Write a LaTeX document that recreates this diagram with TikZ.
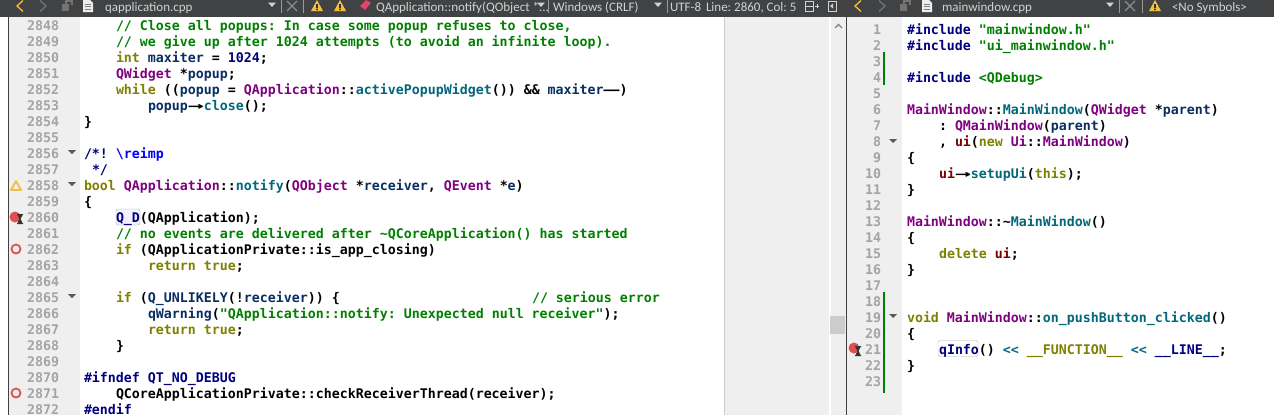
\documentclass[tikz,border=0pt]{standalone}
\usepackage{fontspec}
\newfontfamily\codefont{DejaVu Sans Mono Bold}
\newfontfamily\barfont{Carlito}
\definecolor{barbg}{HTML}{404244}
\definecolor{bartext}{HTML}{D2D2D2}
\definecolor{gutterbg}{HTML}{EFEFEF}
\definecolor{numgrey}{HTML}{A4A4A4}
\definecolor{cmtgreen}{HTML}{008000}
\definecolor{kwolive}{HTML}{808000}
\definecolor{typurple}{HTML}{800080}
\definecolor{fnteal}{HTML}{00677C}
\definecolor{varnavy}{HTML}{092E64}
\definecolor{mcrblue}{HTML}{000080}
\definecolor{docblue}{HTML}{0000FF}
\definecolor{memred}{HTML}{800000}
\definecolor{warnyellow}{HTML}{F0C040}
\definecolor{bpred}{HTML}{E05050}
\newcommand{\cmt}[1]{\textcolor{cmtgreen}{#1}}
\newcommand{\kw}[1]{\textcolor{kwolive}{#1}}
\newcommand{\ty}[1]{\textcolor{typurple}{#1}}
\newcommand{\fnc}[1]{\textcolor{fnteal}{#1}}
\newcommand{\vr}[1]{\textcolor{varnavy}{#1}}
\newcommand{\mcr}[1]{\textcolor{mcrblue}{#1}}
\newcommand{\dcm}[1]{\textcolor{docblue}{#1}}
\newcommand{\mem}[1]{\textcolor{memred}{#1}}
\newcommand{\ptr}{\scalebox{2}[1]{→}}
\newcommand{\decr}{\scalebox{2}[1]{—}}
\begin{document}
\begin{tikzpicture}[x=1pt,y=-1pt]
  \tikzset{code/.style = {anchor=base west,inner sep=0pt,outer sep=0pt,font=\codefont\fontsize{13.28}{16}\selectfont\frenchspacing}}
  \tikzset{lineno/.style = {anchor=base east,inner sep=0pt,outer sep=0pt,text=numgrey,font=\codefont\fontsize{13.28}{16}\selectfont}}
  \tikzset{bartxt/.style = {anchor=base west,inner sep=0pt,outer sep=0pt,text=bartext,font=\barfont\fontsize{13}{15}\selectfont\frenchspacing}}
  \tikzset{barline/.style = {draw=gray!80,line width=1pt}}
  \tikzset{changed/.style = {fill=green!50!black,draw=none}}
  \tikzset{foldtri/.pic = {\fill[black!65] (-4,-2) -- (4,-2) -- (0,2) -- cycle;}}
  \tikzset{droptri/.pic = {\fill[bartext] (-4,-2.5) -- (4,-2.5) -- (0,2) -- cycle;}}
  \tikzset{closex/.pic = {\draw[black!45,line width=1.2pt] (-5,-5) -- (5,5) (-5,5) -- (5,-5);}}
  \tikzset{warnicon/.pic = {\fill[warnyellow] (0,-6) -- (6,5) -- (-6,5) -- cycle;
      \fill[black!80] (-0.8,-2) rectangle (0.8,2) (-0.8,2.8) rectangle (0.8,4.2);}}
  \tikzset{hourglass/.pic = {\fill[black!80] (-3,-5) rectangle (3,-4) (-3,4) rectangle (3,5)
      (-2.5,-4) -- (2.5,-4) -- (0.6,0) -- (2.5,4) -- (-2.5,4) -- (-0.6,0) -- cycle;}}
  \tikzset{docicon/.pic = {\fill[gray!15] (-5,-6) -- (2,-6) -- (5,-3) -- (5,6) -- (-5,6) -- cycle;
      \draw[black!50] (-3,-2) -- (3,-2) (-3,0.5) -- (3,0.5) (-3,3) -- (3,3);}}
  \tikzset{lockicon/.pic = {\fill[black!55] (-5,-1) rectangle (2,6);
      \draw[black!55,line width=1.2pt] (-1,-1) -- (-1,-4) -- (5,-4) -- (5,0);}}

  \useasboundingbox (0,0) rectangle (1274,415);
  \fill[white] (0,0) rectangle (1274,415);

  % panels
  \fill[gutterbg] (9,17) rectangle (80,415);
  \fill[gutterbg] (725,17) rectangle (829,415);
  \fill[gutterbg] (831,17) rectangle (846,415);
  \fill[gutterbg] (847,17) rectangle (902,415);
  \draw[black!75,line width=1pt] (8.5,17) -- (8.5,415);
  \draw[black!20,line width=1pt] (724.5,17) -- (724.5,415);
  \draw[black!75,line width=1pt] (846.5,0) -- (846.5,415);
  \fill[black!20] (830,316) rectangle (845,334);
  \draw[black!50,line width=1.2pt] (835,28) -- (838.5,24.5) -- (842,28);

  % tool bar
  \fill[barbg] (0,0) rectangle (846,17);
  \fill[barbg] (847,0) rectangle (1274,17);
  \draw[warnyellow,line width=1.3pt] (23,0.5) -- (17,6) -- (23,11.5);
  \draw[black!55,line width=1.3pt] (40,0.5) -- (46,6) -- (40,11.5);
  \pic at (67,5) {lockicon};
  \pic at (88,6) {docicon};
  \node[bartxt] (fileleft) at (105,11) {qapplication.cpp};
  \pic at (272,5) {droptri};
  \draw[barline] (281,0) -- (281,13);
  \pic at (292,6) {closex};
  \draw[barline] (303,0) -- (303,13);
  \pic at (317,6) {warnicon};
  \pic at (340,6) {warnicon};
  \fill[bpred!85!magenta] (360,6) -- (366,0) -- (371,3) -- (365,10) -- cycle;
  \node[bartxt] (symbol) at (376,11) {QApplication::notify(QObject *...};
  \pic at (541,5) {droptri};
  \draw[barline] (548.5,0) -- (548.5,13);
  \node[bartxt] (lineend) at (553,11) {Windows (CRLF)};
  \pic at (658,5) {droptri};
  \draw[barline] (667.5,0) -- (667.5,13);
  \node[bartxt] (encoding) at (670,11) {UTF-8};
  \node[bartxt] (cursorpos) at (706,11) {Line: 2860, Col: 5};
  \draw[bartext,line width=0.8pt] (805,1) rectangle (813,11) (805,6) -- (813,6) (815,6) -- (819,6) (817,4) -- (817,8);
  \draw[bartext,line width=0.8pt] (828,1) rectangle (836,11);
  \fill[bartext] (833,3.5) -- (833,8.5) -- (830,6) -- cycle;

  \draw[warnyellow,line width=1.3pt] (861,0.5) -- (855,6) -- (861,11.5);
  \draw[black!55,line width=1.3pt] (879,0.5) -- (885,6) -- (879,11.5);
  \pic at (905,5) {lockicon};
  \pic at (927,6) {docicon};
  \node[bartxt] (fileright) at (942,11) {mainwindow.cpp};
  \pic at (1110,5) {droptri};
  \draw[barline] (1119.5,0) -- (1119.5,13);
  \pic at (1130,6) {closex};
  \draw[barline] (1142,0) -- (1142,13);
  \pic at (1155,6) {warnicon};
  \node[bartxt] (symbolright) at (1172,11) {<No Symbols>};

  % line numbers
  \foreach \n [count=\i from 0] in {2848,...,2872}
    \node[lineno] (num\n) at (59,{30+16*\i}) {\n};
  \foreach \n in {1,...,23}
    \node[lineno] (rnum\n) at (881,{18+16*\n}) {\n};

  % gutter marks
  \fill[changed] (883,52) rectangle (885,85);
  \fill[changed] (883,292) rectangle (885,393);
  \foreach \px/\py in {72/152, 72/184, 72/296, 893/141, 893/316}
    \pic at (\px,\py) {foldtri};
  \draw[warnyellow,line width=1.8pt,line join=round] (16,181) -- (21,190) -- (11,190) -- cycle;
  \fill[bpred] (15,217) circle (5.5);
  \pic at (20,219) {hourglass};
  \fill[bpred] (854,348) circle (5.5);
  \pic at (858,351) {hourglass};
  \foreach \py in {249,393}
    \draw[bpred,line width=1.8pt] (16,\py) circle (4.5);

  % current word boxes
  \draw[fill=blue!6,draw=black!30,rounded corners=2pt] (116,209) rectangle (140,225);
  \draw[fill=white,draw=black!30,rounded corners=2pt] (938,340.5) rectangle (978,356.5);

  % left file
  \node[code] (L2848) at (116,30) {\cmt{// Close all popups: In case some popup refuses to close,}};
  \node[code] (L2849) at (116,46) {\cmt{// we give up after 1024 attempts (to avoid an infinite loop).}};
  \node[code] (L2850) at (116,62) {\kw{int} \vr{maxiter} = \mcr{1024};};
  \node[code] (L2851) at (116,78) {\ty{QWidget} *\vr{popup};};
  \node[code] (L2852) at (116,94) {\kw{while} ((\vr{popup} = \ty{QApplication}::\fnc{activePopupWidget}()) \&\& \vr{maxiter}\decr)};
  \node[code] (L2853) at (148,110) {\vr{popup}\ptr\fnc{close}();};
  \node[code] (L2854) at (84,126) {\}};
  \node[code] (L2856) at (84,158) {\mcr{/*!} \dcm{\textbackslash reimp}};
  \node[code] (L2857) at (92,174) {\mcr{*/}};
  \node[code] (L2858) at (84,190) {\kw{bool} \ty{QApplication}::\fnc{notify}(\ty{QObject} *\vr{receiver}, \ty{QEvent} *\vr{e})};
  \node[code] (L2859) at (84,206) {\{};
  \node[code] (L2860) at (116,222) {\mcr{Q\_D}(QApplication);};
  \node[code] (L2861) at (116,238) {\cmt{// no events are delivered after \textasciitilde QCoreApplication() has started}};
  \node[code] (L2862) at (116,254) {\kw{if} (QApplicationPrivate::is\_app\_closing)};
  \node[code] (L2863) at (148,270) {\kw{return true};};
  \node[code] (L2865) at (116,302) {\kw{if} (\vr{Q\_UNLIKELY}(!\vr{receiver})) \{};
  \node[code] (L2865c) at (532,302) {\cmt{// serious error}};
  \node[code] (L2866) at (148,318) {\vr{qWarning}(\cmt{"QApplication::notify: Unexpected null receiver"});};
  \node[code] (L2867) at (148,334) {\kw{return true};};
  \node[code] (L2868) at (116,350) {\}};
  \node[code] (L2870) at (84,382) {\mcr{\#ifndef QT\_NO\_DEBUG}};
  \node[code] (L2871) at (116,398) {QCoreApplicationPrivate::checkReceiverThread(receiver);};
  \node[code] (L2872) at (84,414) {\mcr{\#endif}};

  % right file
  \node[code] (R1) at (907,34) {\mcr{\#include} \cmt{"mainwindow.h"}};
  \node[code] (R2) at (907,50) {\mcr{\#include} \cmt{"ui\_mainwindow.h"}};
  \node[code] (R4) at (907,82) {\mcr{\#include} \cmt{<QDebug>}};
  \node[code] (R6) at (907,114) {\ty{MainWindow}::\fnc{MainWindow}(\ty{QWidget} *\vr{parent})};
  \node[code] (R7) at (939,130) {: \ty{QMainWindow}(\vr{parent})};
  \node[code] (R8) at (939,146) {, \mem{ui}(\kw{new} \ty{Ui}::\ty{MainWindow})};
  \node[code] (R9) at (907,162) {\{};
  \node[code] (R10) at (939,178) {\mem{ui}\ptr\fnc{setupUi}(\kw{this});};
  \node[code] (R11) at (907,194) {\}};
  \node[code] (R13) at (907,226) {\ty{MainWindow}::\textasciitilde\fnc{MainWindow}()};
  \node[code] (R14) at (907,242) {\{};
  \node[code] (R15) at (939,258) {\kw{delete} \mem{ui};};
  \node[code] (R16) at (907,274) {\}};
  \node[code] (R19) at (907,322) {\kw{void} \ty{MainWindow}::\fnc{on\_pushButton\_clicked}()};
  \node[code] (R20) at (907,338) {\{};
  \node[code] (R21) at (939,354) {\mcr{qInfo}() \fnc{<<} \kw{\_\_FUNCTION\_\_} \fnc{<<} \mcr{\_\_LINE\_\_};};
  \node[code] (R22) at (907,370) {\}};
\end{tikzpicture}
\end{document}
